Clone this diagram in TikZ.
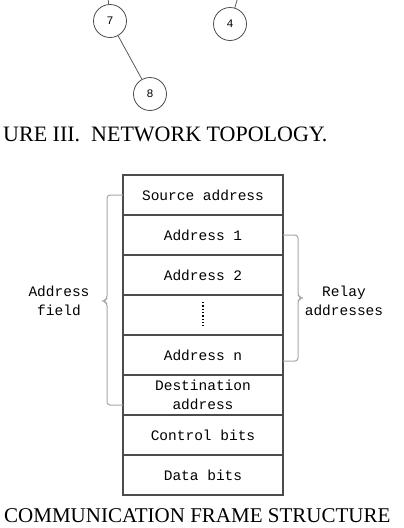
\documentclass[tikz,border=0pt]{standalone}
\usepackage{fontspec}
\setmainfont{Liberation Serif}
\newfontfamily\framefont{Liberation Mono}
\usetikzlibrary{positioning}

\begin{document}
\begin{tikzpicture}[x=1pt, y=-1pt,
    vertex/.style={circle, draw=black!70, line width=0.8pt, minimum size=33pt, inner sep=0pt,
                   font=\framefont\fontsize{11.5}{12}\selectfont},
    edge/.style={draw=black!65, line width=0.8pt},
    field/.style={draw=black!70, line width=1.2pt, minimum width=160pt, minimum height=40pt,
                  inner sep=0pt, outer sep=0pt, align=center,
                  font=\framefont\fontsize{14.5}{19}\selectfont},
    brace/.style={draw=black!35, line width=1pt, rounded corners=3pt},
    side/.style={align=center, font=\framefont\fontsize{14.5}{19}\selectfont},
    caption/.style={anchor=base west, inner sep=0pt, text depth=0pt}]
    \useasboundingbox (0,0) rectangle (404,528);
    \clip (0,0) rectangle (404,528);

    % topology (lower part only)
    \node[vertex] (n7) at (110,21) {7};
    \node[vertex] (n4) at (230,24) {4};
    \node[vertex] (n8) at (150,94) {8};
    \coordinate (up7) at (105,-40);
    \coordinate (up4) at (246,-30);
    \draw[edge] (n7) -- (up7);
    \draw[edge] (n4) -- (up4);
    \draw[edge] (n7) -- (n8);
    \node[caption, font=\fontsize{22}{24}\selectfont] (cap1) at (3,141) {URE III.\ \ NETWORK TOPOLOGY.};

    % frame structure
    \node[field] (src) at (203,195) {Source address};
    \node[field, below=0pt of src] (adr1) {Address 1};
    \node[field, below=0pt of adr1] (adr2) {Address 2};
    \node[field, below=0pt of adr2] (dots) {};
    \node[field, below=0pt of dots] (adrn) {Address n};
    \node[field, below=0pt of adrn] (dst) {Destination\\address};
    \node[field, below=0pt of dst] (ctrl) {Control bits};
    \node[field, below=0pt of ctrl] (data) {Data bits};
    \draw[line width=1.3pt, dotted] ([yshift=-7pt]dots.north) -- ([yshift=7pt]dots.south);

    % brackets
    \draw[brace] (src.west) -- (107,195) -- (107,299) -- (103,301) -- (107,303) -- (107,405)
        -- ([yshift=-10pt]dst.west);
    \draw[brace] (adr1.east) -- (298,235) -- (298,296) -- (302,298) -- (298,300) -- (298,361)
        -- ([yshift=-6pt]adrn.east);
    \node[side] (addrfield) at (59,301) {Address\\field};
    \node[side] (relay) at (344,301) {Relay\\addresses};

    \node[caption, font=\fontsize{21}{24}\selectfont] (cap2) at (4,522) {COMMUNICATION FRAME STRUCTURE};
\end{tikzpicture}
\end{document}
